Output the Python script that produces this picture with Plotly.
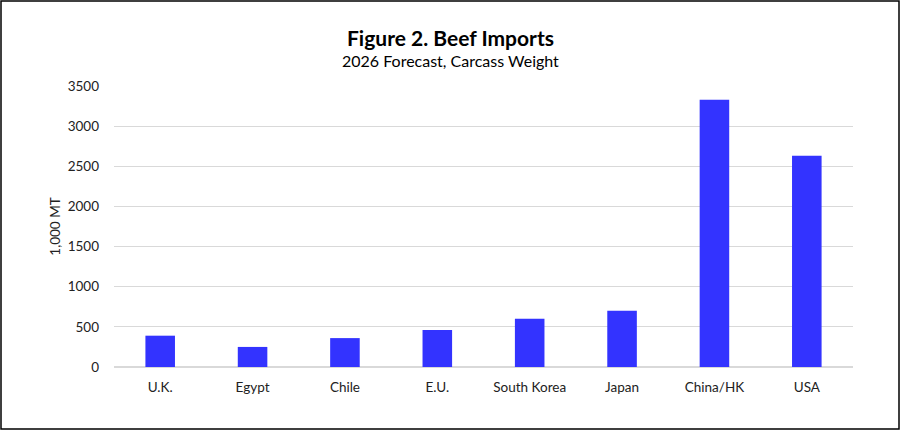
import plotly.graph_objects as go

categories = ["U.K.", "Egypt", "Chile", "E.U.", "South Korea", "Japan", "China/HK", "USA"]
imports_kmt = [390, 250, 360, 460, 600, 700, 3330, 2630]
y_ticks = [0, 500, 1000, 1500, 2000, 2500, 3000, 3500]

W, H = 900, 430
ml, mr, mt, mb = 114, 47, 86, 63
pw, ph = W - ml - mr, H - mt - mb

font = "Lato, 'Open Sans', sans-serif"

fig = go.Figure(go.Bar(x=categories, y=imports_kmt, marker_color="#3333FF",
                       marker_line_width=0))

fig.update_layout(
    width=W, height=H,
    margin=dict(l=ml, r=mr, t=mt, b=mb),
    paper_bgcolor="white", plot_bgcolor="white",
    bargap=0.68,
    font=dict(family=font, size=13, color="#222"),
    showlegend=False,
    annotations=[
        dict(text="<b>Figure 2. Beef Imports</b>", xref="paper", yref="paper",
             x=(450 - ml) / pw, y=1 + (86 - 37) / ph, xanchor="center", yanchor="middle",
             showarrow=False, font=dict(size=21, color="black", family=font)),
        dict(text="2026 Forecast, Carcass Weight", xref="paper", yref="paper",
             x=(450 - ml) / pw, y=1 + (86 - 61) / ph, xanchor="center", yanchor="middle",
             showarrow=False, font=dict(size=16, color="black", family=font)),
    ],
    shapes=[
        dict(type="rect", xref="paper", yref="paper",
             x0=-(ml - 1) / pw, x1=1 + (mr - 1) / pw,
             y0=-(mb - 1) / ph, y1=1 + (mt - 1) / ph,
             line=dict(color="black", width=1.5), fillcolor="rgba(0,0,0,0)"),
    ],
)
fig.update_xaxes(showline=False, showgrid=False, ticks="", ticklabelstandoff=10,
                 tickfont=dict(size=13.5))
fig.update_yaxes(range=[0, 3500], tickvals=y_ticks, showgrid=True, gridcolor="#d9d9d9",
                 zeroline=True, zerolinecolor="#d9d9d9", ticks="", ticklabelstandoff=14,
                 title=dict(text="1,000 MT", font=dict(size=13.5), standoff=3),
                 tickfont=dict(size=13.5))

fig.write_html("out.html")
